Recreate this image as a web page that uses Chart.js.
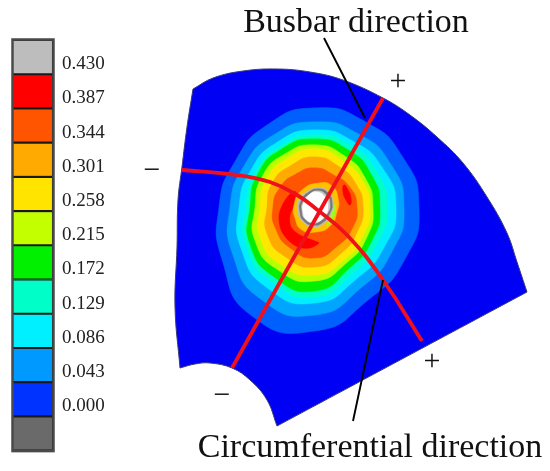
<!DOCTYPE html>
<html><head><meta charset="utf-8">
<style>html,body{margin:0;padding:0;background:#fff;width:550px;height:471px;overflow:hidden}
#field{position:absolute;left:0;top:0}#bar{position:absolute;left:0;top:0}</style>
<script src="https://cdn.jsdelivr.net/npm/chart.js@4/dist/chart.umd.min.js"></script>
</head><body>
<canvas id="field" width="550" height="471"></canvas>
<canvas id="bar" width="200" height="471"></canvas>
<script>
const legendLabels=['0.430','0.387','0.344','0.301','0.258','0.215','0.172','0.129','0.086','0.043','0.000',''];
const legendColors=['#bdbdbd','#ff0000','#ff5500','#ffaa00','#ffe400','#c4ff00','#00f000','#00ffc8','#00f0ff','#0099ff','#0033ff','#6a6a6a'];

const fan=[[193,89],[193,89],[213,78],[243,71],[277,69],[310,72],[343,80],[383,98],[410,115],[437,137],[463,163],[487,197],[507,233],[517,262],[527,292],[527,292],[277,426],[277,426],[267,400],[250,380],[232,368],[210,363],[195,364],[180,368],[180,368],[175,307],[177,247],[178,200],[182,167],[187,127],[193,89]];
// contour radii read every 30 degrees clockwise from north, around the hole
const contourCentre=[315,207];
const bandA=[99,99,101,104,104,107,124,126,107,96,92,95];
const bandB=[85,85,87,89,89,93,108,107,95,85,82,83];
const bandC=[77,76,78,81,80,83,96,94,85,76,74,75];
const bandD=[72,71,71,72,72,76,90,86,79,69,69,70];
const bandE=[68,66,65,65,66,70,84,81,75,65,66,67];
const bandF=[62,59,58,58,60,64,74,73,69,60,61,61];
const bandG=[58,54,54,55,56,60,68,67,63,55,56,56];
const bandH=[50,47,47,48,49,53,60,58,55,48,49,48];
const bandI=[39,37,40,42,43,45,51,48,45,42,40,38];
const redLeft=[[296,192],[296,202],[290,215],[291,227],[300,235],[315,241],[319,243],[310,248],[298,247],[288,240],[281,230],[279,215],[284,202],[291,193]];
const redRight=[[344,185],[348,190],[351,198],[350,205],[346,200],[343,192]];
const halo=[[320,183],[332,186],[338,198],[337,212],[330,226],[316,232],[302,230],[295,218],[294,205],[302,190]];
const greenSpot=[[335,205],[334,216],[327,226],[330,217],[333,208]];
const ringOuter=[[320,188],[329,192],[333,202],[331,214],[323,224],[313,227],[303,222],[298,212],[299,200],[308,191]];
const ringDark=[[319,189],[328,193],[332,202],[330,213],[322,223],[313,225],[304,221],[300,212],[301,201],[309,192]];
const ringLight=[[318,191],[326,195],[330,204],[327,214],[320,221],[313,223],[305,219],[302,211],[303,202],[310,194]];
const hole=[[316,192],[325,197],[328,207],[324,217],[316,222],[307,220],[303,212],[304,202],[309,195]];
const busbarLine=[[383,98],[232,368]];
const circLine=[[182,170],[237,175],[270,182],[297,195],[315,208],[347,235],[383,280],[422,341]];
const busbarLeader=[[324,38],[365,118]];
const circLeader=[[383,280],[353,421]];
const notes=[['Busbar direction',356,32],['Circumferential direction',370,457],['+',398,90],['+',432,370],['\u2212',152,179],['\u2212',222,404]];

const pts=a=>a.map(p=>({x:p[0],y:p[1]}));
const polar=r=>r.map((v,i)=>{const t=i*Math.PI/6;return [contourCentre[0]+v*Math.sin(t),contourCentre[1]-v*Math.cos(t)];});
const wrap=a=>[a[a.length-1],...a,a[0],a[1]];
const area=(a,c,t)=>({data:pts(wrap(a)),backgroundColor:c,borderColor:c,borderWidth:0.5,fill:'shape',pointRadius:0,tension:t===undefined?0.55:t});
const band=(r,c)=>area(polar(r),c);
const stroke=(a,c,w,t)=>({data:pts(a),borderColor:c,borderWidth:w,fill:false,pointRadius:0,tension:t||0});

const notePlugin={id:'notes',afterDatasetsDraw(ch){const {ctx,scales:{x,y}}=ch;ctx.save();ctx.fillStyle='#111';ctx.textAlign='center';ctx.textBaseline='alphabetic';
 notes.forEach(n=>{ctx.font=(n[0].length>1?'34':'30')+'px "Liberation Serif"';ctx.fillText(n[0],x.getPixelForValue(n[1]),y.getPixelForValue(n[2]));});ctx.restore();}};
const framePlugin={id:'frame',afterDatasetsDraw(ch){const {ctx,chartArea:a}=ch;ctx.save();ctx.strokeStyle='#4a4a4a';ctx.lineWidth=2.5;ctx.strokeRect(a.left-0.5,a.top-0.5,a.right-a.left+1,a.bottom-a.top+1);ctx.restore();}};

new Chart(document.getElementById('field'),{type:'line',
 data:{datasets:[
  stroke(busbarLeader,'#000',1.9),stroke(circLeader,'#000',1.9),
  stroke(busbarLine,'#f0101c',3.8),stroke(circLine,'#f0101c',3.8,0.45),
  area(hole,'#ffffff'),area(ringLight,'#c8c8c8'),area(ringDark,'#777777'),area(ringOuter,'#bdbdbd'),
  area(greenSpot,'#9cff20'),area(halo,'#ffc000'),
  area(redRight,'#ff0000'),area(redLeft,'#ff0000',0.3),
  band(bandI,'#ff5500'),band(bandH,'#ffaa00'),band(bandG,'#ffe800'),band(bandF,'#b8ff00'),band(bandE,'#00f000'),band(bandD,'#00ffc8'),band(bandC,'#00eeff'),band(bandB,'#00a5ff'),band(bandA,'#0060ff'),
  {data:pts(fan),backgroundColor:'#0000f5',fill:'shape',pointRadius:0,tension:0.4,borderColor:'#3a3a7a',borderWidth:1}
 ]},
 options:{responsive:false,animation:false,layout:{padding:0},
  plugins:{legend:{display:false},tooltip:{enabled:false}},
  scales:{x:{type:'linear',display:false,min:0,max:550},y:{type:'linear',display:false,min:0,max:471,reverse:true}}},
 plugins:[notePlugin]});

new Chart(document.getElementById('bar'),{type:'bar',
 data:{labels:legendLabels,datasets:[{data:legendLabels.map(()=>1),backgroundColor:legendColors,borderColor:'#1a1a1a',borderWidth:1.4,categoryPercentage:1,barPercentage:1}]},
 options:{indexAxis:'y',responsive:false,animation:false,layout:{padding:{left:13,top:40,bottom:13,right:0}},
  plugins:{legend:{display:false},tooltip:{enabled:false}},
  scales:{x:{display:false,min:0,max:1},
   y:{position:'right',afterFit(s){s.width=147;},grid:{display:false,drawTicks:false},border:{display:false},
    ticks:{padding:9,labelOffset:7,color:'#222',autoSkip:false,font:{family:'"Liberation Serif"',size:19}}}}},
 plugins:[framePlugin]});
</script></body></html>
